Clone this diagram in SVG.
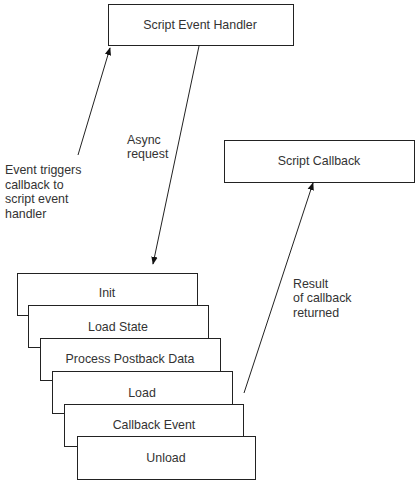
<svg xmlns="http://www.w3.org/2000/svg" width="419" height="488" viewBox="0 0 419 488">
<style>
.box{fill:#fff;stroke:#222;stroke-width:1}
.t{font-family:"Liberation Sans",Arial,sans-serif;font-size:12.4px;fill:#333}
.c{text-anchor:middle}
.ln{stroke:#222;stroke-width:1;fill:none}
</style>
<defs>
<marker id="ah" viewBox="0 0 10 10" refX="9" refY="5" markerWidth="8" markerHeight="8" markerUnits="userSpaceOnUse" orient="auto">
<path d="M0,1 L10,5 L0,9 Z" fill="#111"/>
</marker>
</defs>
<rect width="419" height="488" fill="#fff"/>
<g id="script-event-handler">
<rect class="box" x="108.5" y="4.5" width="185" height="41"/>
<text class="t c" x="200" y="29">Script Event Handler</text>
</g>
<g id="script-callback">
<rect class="box" x="224.5" y="140.5" width="190" height="42"/>
<text class="t c" x="319" y="165">Script Callback</text>
</g>
<g id="init">
<rect class="box" x="17.5" y="273.5" width="180" height="42"/>
<text class="t c" x="107" y="297">Init</text>
</g>
<g id="load-state">
<rect class="box" x="28.5" y="305.5" width="180" height="42"/>
<text class="t c" x="118" y="331">Load State</text>
</g>
<g id="process-postback-data">
<rect class="box" x="40.5" y="338.5" width="180" height="42"/>
<text class="t c" x="130" y="363">Process Postback Data</text>
</g>
<g id="load">
<rect class="box" x="52.5" y="371.5" width="180" height="42"/>
<text class="t c" x="142" y="397">Load</text>
</g>
<g id="callback-event">
<rect class="box" x="64.5" y="404.5" width="179" height="42"/>
<text class="t c" x="154" y="429">Callback Event</text>
</g>
<g id="unload">
<rect class="box" x="77.5" y="436.5" width="178" height="43"/>
<text class="t c" x="166" y="462">Unload</text>
</g>
<g id="connectors">
<line class="ln" x1="78" y1="155" x2="110" y2="48" marker-end="url(#ah)"/>
<line class="ln" x1="199" y1="46" x2="153" y2="264" marker-end="url(#ah)"/>
<line class="ln" x1="244" y1="393" x2="313" y2="183" marker-end="url(#ah)"/>
</g>
<g id="labels">
<text class="t" x="5" y="174">Event triggers</text>
<text class="t" x="5" y="189">callback to</text>
<text class="t" x="5" y="203">script event</text>
<text class="t" x="5" y="218">handler</text>
<text class="t" x="127" y="144">Async</text>
<text class="t" x="127" y="158">request</text>
<text class="t" x="293" y="288">Result</text>
<text class="t" x="293" y="302">of callback</text>
<text class="t" x="293" y="317">returned</text>
</g>
</svg>
